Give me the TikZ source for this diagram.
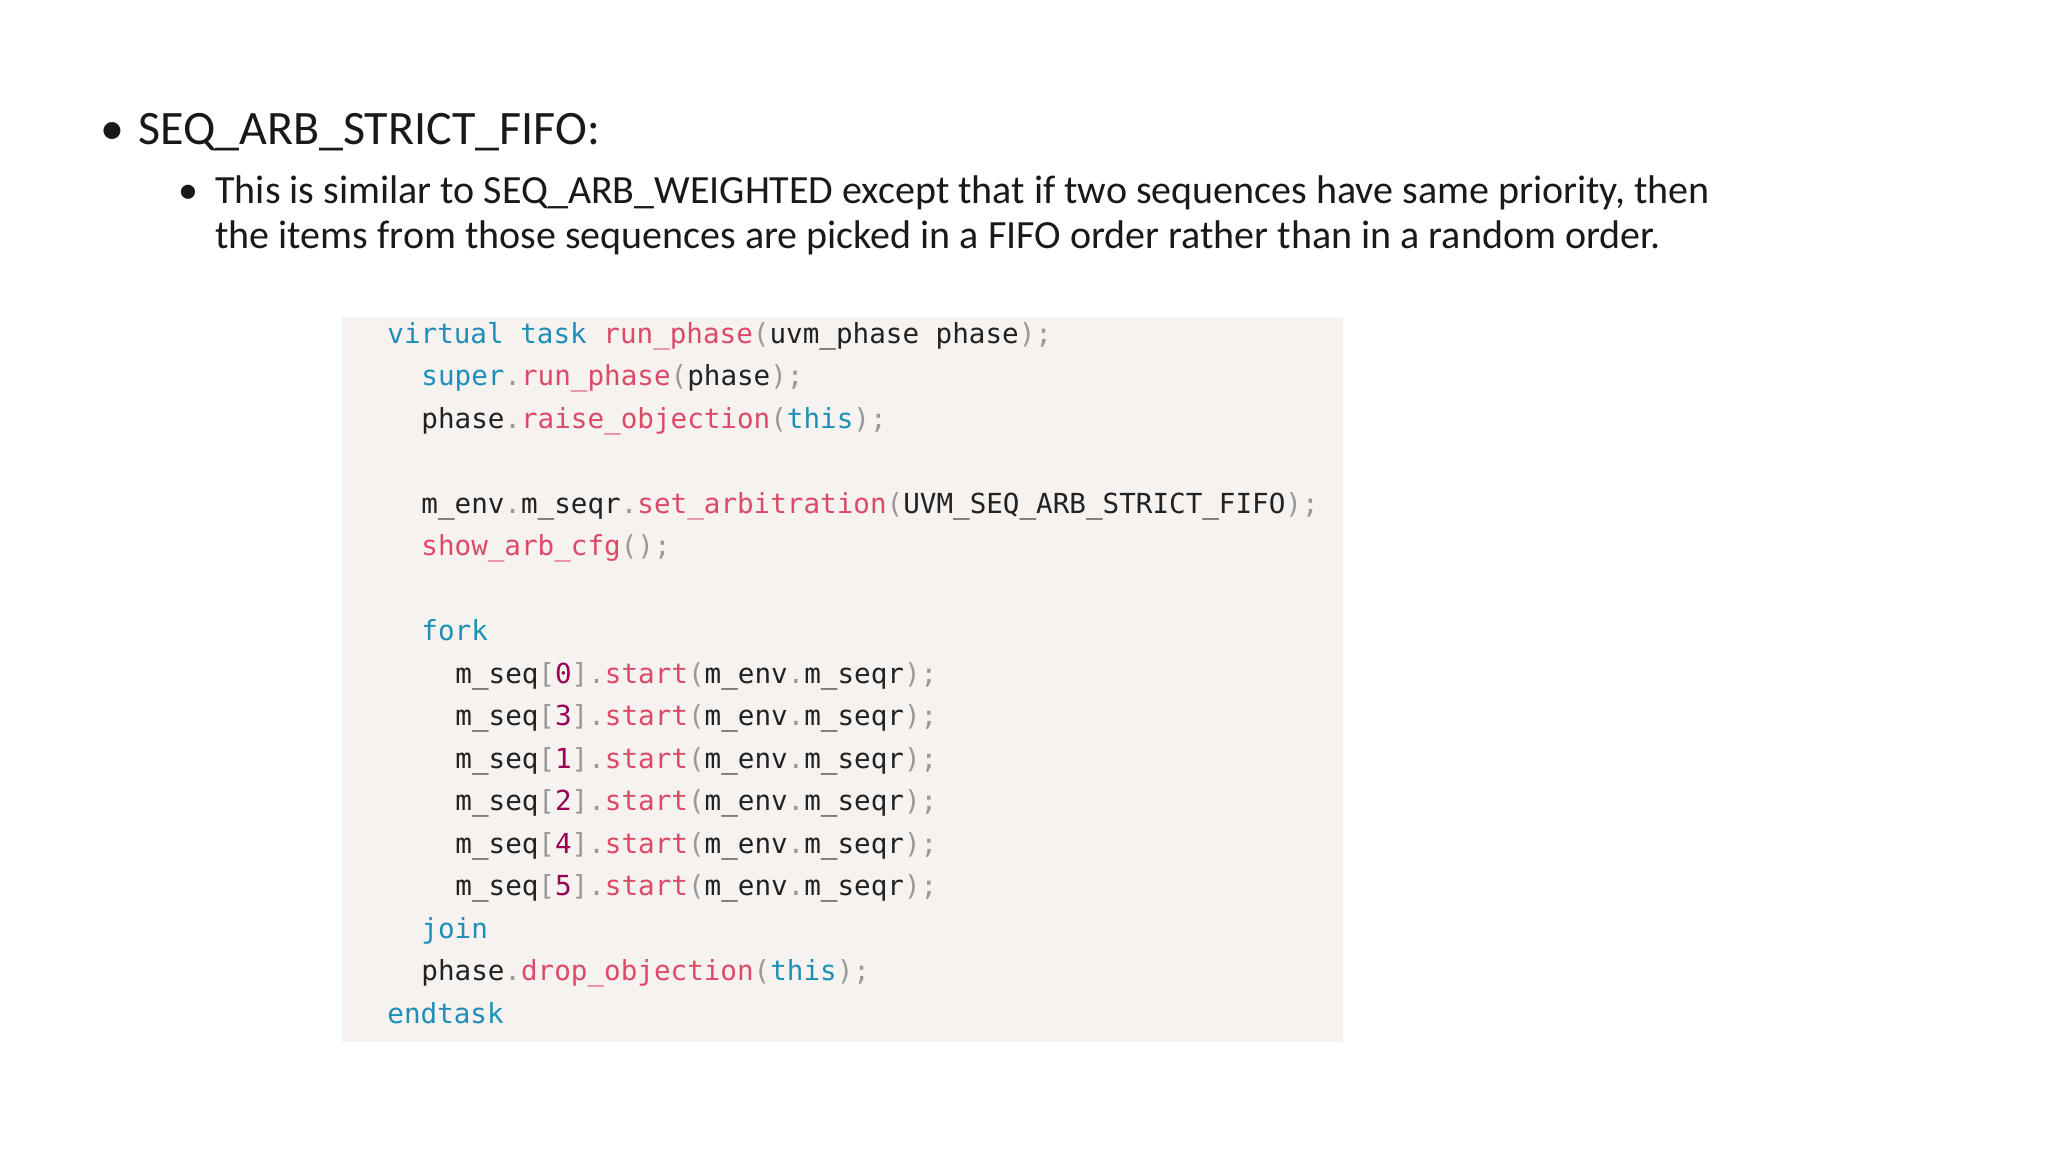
\documentclass[tikz,border=0pt]{standalone}
\usepackage{fontspec}
\setmainfont{Carlito}
\newfontfamily\codefont{DejaVu Sans Mono}
\definecolor{kwc}{HTML}{1F8FB8}
\definecolor{fnc}{HTML}{DD4A68}
\definecolor{puc}{HTML}{999999}
\definecolor{nmc}{HTML}{990055}
\definecolor{txc}{HTML}{222222}
\definecolor{bgc}{HTML}{F5F2F0}
\newcommand{\kw}[1]{\textcolor{kwc}{#1}}
\newcommand{\fn}[1]{\textcolor{fnc}{#1}}
\newcommand{\pu}[1]{\textcolor{puc}{#1}}
\newcommand{\nm}[1]{\textcolor{nmc}{#1}}
\begin{document}
\begin{tikzpicture}[x=0.5pt,y=-0.5pt,
  title/.style={anchor=base west,inner sep=0pt,font=\fontsize{24}{28}\selectfont,text=black!90},
  sub/.style={anchor=base west,inner sep=0pt,font=\fontsize{20}{23}\selectfont,text=black!90},
  code/.style={anchor=base west,inner sep=0pt,font=\codefont\fontsize{13.8}{16}\selectfont,text=txc}]
\useasboundingbox[fill=white] (0,0) rectangle (2048,1152);
\fill[bgc] (342,317) rectangle (1343,1042);
\node[title] (b1) at (100,144) {•};
\node[title] (t1) at (138,144) {SEQ\_ARB\_STRICT\_FIFO:};
\node[sub] (b2) at (178,203) {•};
\node[sub] (t2) at (215,203) {This is similar to SEQ\_ARB\_WEIGHTED except that if two sequences have same priority, then};
\node[sub] (t3) at (215,248) {the items from those sequences are picked in a FIFO order rather than in a random order.};
\def\L#1{(343+42.5*#1)}
\node[code] (c0) at (387,343) {\kw{virtual} \kw{task} \fn{run\_phase}\pu{(}uvm\_phase phase\pu{);}};
\node[code] (c1) at (421,385.5) {\kw{super}\pu{.}\fn{run\_phase}\pu{(}phase\pu{);}};
\node[code] (c2) at (421,428) {phase\pu{.}\fn{raise\_objection}\pu{(}\kw{this}\pu{);}};
\node[code] (c4) at (421,513) {m\_env\pu{.}m\_seqr\pu{.}\fn{set\_arbitration}\pu{(}UVM\_SEQ\_ARB\_STRICT\_FIFO\pu{);}};
\node[code] (c5) at (421,555.5) {\fn{show\_arb\_cfg}\pu{();}};
\node[code] (c7) at (421,640.5) {\kw{fork}};
\node[code] (c8) at (455,683) {m\_seq\pu{[}\nm{0}\pu{]}\pu{.}\fn{start}\pu{(}m\_env\pu{.}m\_seqr\pu{);}};
\node[code] (c9) at (455,725.5) {m\_seq\pu{[}\nm{3}\pu{]}\pu{.}\fn{start}\pu{(}m\_env\pu{.}m\_seqr\pu{);}};
\node[code] (c10) at (455,768) {m\_seq\pu{[}\nm{1}\pu{]}\pu{.}\fn{start}\pu{(}m\_env\pu{.}m\_seqr\pu{);}};
\node[code] (c11) at (455,810.5) {m\_seq\pu{[}\nm{2}\pu{]}\pu{.}\fn{start}\pu{(}m\_env\pu{.}m\_seqr\pu{);}};
\node[code] (c12) at (455,853) {m\_seq\pu{[}\nm{4}\pu{]}\pu{.}\fn{start}\pu{(}m\_env\pu{.}m\_seqr\pu{);}};
\node[code] (c13) at (455,895.5) {m\_seq\pu{[}\nm{5}\pu{]}\pu{.}\fn{start}\pu{(}m\_env\pu{.}m\_seqr\pu{);}};
\node[code] (c14) at (421,938) {\kw{join}};
\node[code] (c15) at (421,980.5) {phase\pu{.}\fn{drop\_objection}\pu{(}\kw{this}\pu{);}};
\node[code] (c16) at (387,1023) {\kw{endtask}};
\end{tikzpicture}
\end{document}
